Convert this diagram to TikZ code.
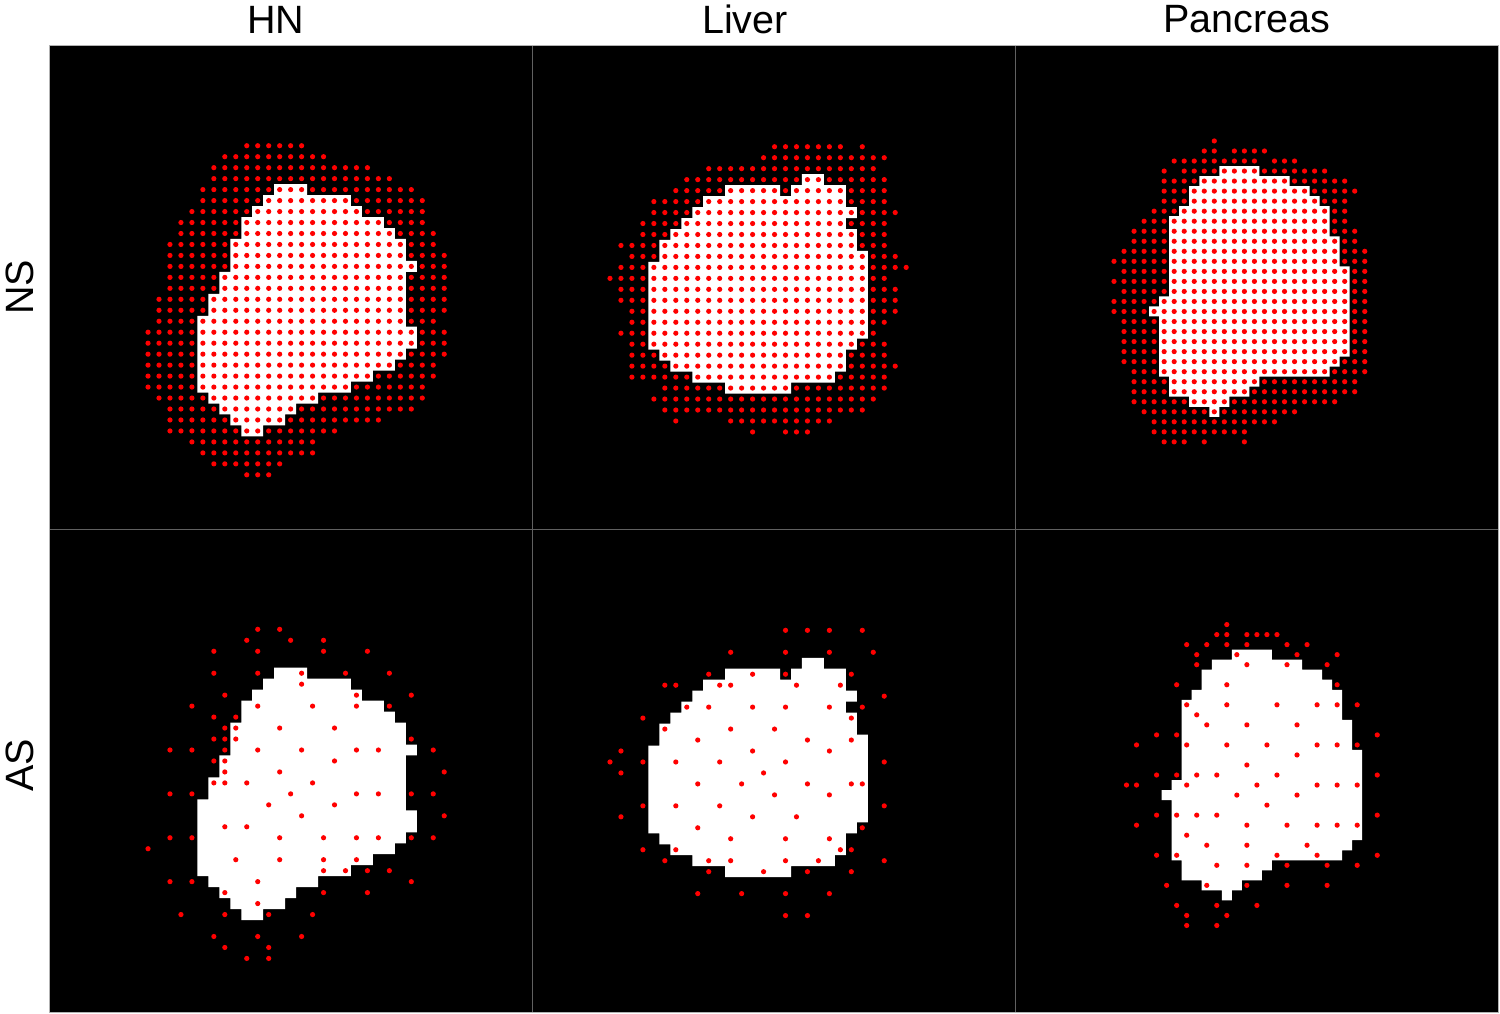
\documentclass[tikz,border=0pt]{standalone}
\usepackage{fontspec}
\setmainfont{Liberation Sans}
\begin{document}
\begin{tikzpicture}[x=1pt,y=-1pt]
\tikzset{
  lab/.style={inner sep=0pt, font=\fontsize{39.5}{44}\selectfont, anchor=base},
  rdot/.style={fill=red},
  blobfill/.style={fill=white},
  divider/.style={draw=black!62, line width=1pt},
  frame/.style={draw=black!30, line width=1.4pt}
}
\useasboundingbox (0,0) rectangle (1500,1014);
\fill[white] (0,0) rectangle (1500,1014);
% panels background
\fill[black] (49.3,45.7) rectangle (1498.3,1012.3);
\newcommand{\nsdots}[1]{\foreach \r/\a/\b in {#1}{\foreach \c in {\a,...,\b}{\fill[rdot] (\c,\r) circle (2.6pt);}}}
\newcommand{\asdots}[1]{\foreach \r/\lst in {#1}{\foreach \c in \lst {\fill[rdot] (\c,\r) circle (2.6pt);}}}
% ---------------- HN ----------------
\foreach \yy in {47,530.6}{
\begin{scope}[shift={(49.3pt,-\yy pt)}, x=10.97pt, y=-10.97pt]
\fill[blobfill] (20.5,12.5) -- (23.5,12.5) -- (23.5,13.5) -- (27.5,13.5) -- (27.5,14.5) -- (28.5,14.5) -- (28.5,15.5) -- (30.5,15.5) -- (30.5,16.5) -- (31.5,16.5) -- (31.5,17.5) -- (32.5,17.5) -- (32.5,19.5) -- (33.5,19.5) -- (33.5,20.5) -- (32.5,20.5) -- (32.5,25.5) -- (33.5,25.5) -- (33.5,27.5) -- (32.5,27.5) -- (32.5,28.5) -- (31.5,28.5) -- (31.5,29.5) -- (29.5,29.5) -- (29.5,30.5) -- (27.5,30.5) -- (27.5,31.5) -- (24.5,31.5) -- (24.5,32.5) -- (22.5,32.5) -- (22.5,33.5) -- (21.5,33.5) -- (21.5,34.5) -- (19.5,34.5) -- (19.5,35.5) -- (17.5,35.5) -- (17.5,34.5) -- (16.5,34.5) -- (16.5,33.5) -- (15.5,33.5) -- (15.5,32.5) -- (14.5,32.5) -- (14.5,31.5) -- (13.5,31.5) -- (13.5,24.5) -- (14.5,24.5) -- (14.5,22.5) -- (15.5,22.5) -- (15.5,20.5) -- (16.5,20.5) -- (16.5,17.5) -- (17.5,17.5) -- (17.5,15.5) -- (18.5,15.5) -- (18.5,14.5) -- (19.5,14.5) -- (19.5,13.5) -- (20.5,13.5) -- cycle;
\end{scope}}
\begin{scope}[shift={(49.3pt,-47pt)}, x=10.97pt, y=-10.97pt]
\nsdots{9/18/23,10/16/25,11/15/29,12/15/31,13/14/33,14/14/34,15/13/34,16/12/34,17/12/35,18/11/35,19/11/36,20/11/36,21/11/36,22/11/36,23/10/36,24/10/36,25/10/35,26/9/36,27/9/36,28/9/36,29/9/35,30/9/35,31/9/34,32/10/34,33/11/33,34/11/30,35/11/26,36/13/24,37/14/24,38/15/21,39/18/20}
\end{scope}
\begin{scope}[shift={(49.3pt,-530.6pt)}, x=10.97pt, y=-10.97pt]
\asdots{9/{19,21},10/{18,22,25},11/{15,19,25,29},13/{15,19,23,27,31},14/{23},15/{16,28,33},16/{13,19,24,28,31},17/{15,17},18/{16,17,21,26},19/{15,16,17,33},20/{11,13,16,19,23,28,30,35},21/{15,16,26},22/{16,21,36},23/{15,16,18,24},24/{11,13,22,28,30,33,35},25/{20,26},26/{23,36},27/{16,18},28/{11,13,21,25,28,30,33,35},29/{9},30/{17,21,25,28},31/{25,27,29,31},32/{11,13,19,33},33/{16,25,29},34/{19},35/{12,16,20,24},37/{15,19,23},38/{16,20},39/{18,20}}
\end{scope}
% ---------------- Liver ----------------
\foreach \yy in {48,531.6}{
\begin{scope}[shift={(533.2pt,-\yy pt)}, x=10.97pt, y=-10.97pt]
\fill[blobfill] (17.5,12.5) -- (22.5,12.5) -- (22.5,13.5) -- (23.5,13.5) -- (23.5,12.5) -- (24.5,12.5) -- (24.5,11.5) -- (26.5,11.5) -- (26.5,12.5) -- (28.5,12.5) -- (28.5,14.5) -- (29.5,14.5) -- (29.5,15.5) -- (28.5,15.5) -- (28.5,16.5) -- (29.5,16.5) -- (29.5,18.5) -- (30.5,18.5) -- (30.5,26.5) -- (29.5,26.5) -- (29.5,27.5) -- (28.5,27.5) -- (28.5,29.5) -- (27.5,29.5) -- (27.5,30.5) -- (23.5,30.5) -- (23.5,31.5) -- (17.5,31.5) -- (17.5,30.5) -- (14.5,30.5) -- (14.5,29.5) -- (12.5,29.5) -- (12.5,28.5) -- (11.5,28.5) -- (11.5,27.5) -- (10.5,27.5) -- (10.5,19.5) -- (11.5,19.5) -- (11.5,17.5) -- (12.5,17.5) -- (12.5,16.5) -- (13.5,16.5) -- (13.5,15.5) -- (14.5,15.5) -- (14.5,14.5) -- (15.5,14.5) -- (15.5,13.5) -- (17.5,13.5) -- cycle;
\end{scope}}
\begin{scope}[shift={(533.2pt,-48pt)}, x=10.97pt, y=-10.97pt]
\nsdots{9/22/28,9/30/30,10/21/32,11/16/31,12/14/32,13/13/32,14/11/32,15/11/33,16/10/32,17/10/32,18/8/32,19/9/33,20/8/34,21/7/32,22/8/33,23/8/33,24/9/33,25/9/32,26/8/31,27/9/32,28/9/32,29/9/33,30/9/32,31/12/32,32/11/31,33/12/30,34/13/13,34/18/27,35/20/20,35/23/25}
\end{scope}
\begin{scope}[shift={(533.2pt,-531.6pt)}, x=10.97pt, y=-10.97pt]
\asdots{9/{23,25,27,30},11/{18,23,27,31},13/{16,20,23,29},14/{12,13,17,18,24,28},15/{32},16/{14,16,20,23,27,30},17/{10,29},18/{12,18,22},19/{15,25,29},20/{8,20,27},21/{7,10,13,17,23,32},22/{8,21},23/{15,19,25,29,30},24/{22,27},25/{10,13,17,32},26/{8,20,24},27/{15,30},28/{18,23,27},29/{10,13,28,29},30/{12,16,18,23,26,32},31/{16,21,25,29},33/{15,19,23,27},35/{23,25}}
\end{scope}
% ---------------- Pancreas ----------------
\foreach \xx/\yy in {1013.7/50.7,1026.2/534.3}{
\begin{scope}[shift={(\xx pt,-\yy pt)}, x=10.03pt, y=-10.03pt]
\fill[blobfill] (20.5,11.5) -- (24.5,11.5) -- (24.5,12.5) -- (27.5,12.5) -- (27.5,13.5) -- (29.5,13.5) -- (29.5,14.5) -- (30.5,14.5) -- (30.5,15.5) -- (31.5,15.5) -- (31.5,18.5) -- (32.5,18.5) -- (32.5,21.5) -- (33.5,21.5) -- (33.5,30.5) -- (32.5,30.5) -- (32.5,31.5) -- (31.5,31.5) -- (31.5,32.5) -- (24.5,32.5) -- (24.5,33.5) -- (23.5,33.5) -- (23.5,34.5) -- (21.5,34.5) -- (21.5,35.5) -- (20.5,35.5) -- (20.5,36.5) -- (19.5,36.5) -- (19.5,35.5) -- (17.5,35.5) -- (17.5,34.5) -- (15.5,34.5) -- (15.5,32.5) -- (14.5,32.5) -- (14.5,26.5) -- (13.5,26.5) -- (13.5,25.5) -- (14.5,25.5) -- (14.5,24.5) -- (15.5,24.5) -- (15.5,16.5) -- (16.5,16.5) -- (16.5,15.5) -- (17.5,15.5) -- (17.5,13.5) -- (18.5,13.5) -- (18.5,12.5) -- (20.5,12.5) -- cycle;
\end{scope}}
\begin{scope}[shift={(1013.7pt,-50.7pt)}, x=10.03pt, y=-10.03pt]
\nsdots{9/20/20,10/19/20,10/22/25,11/16/24,11/26/28,12/15/15,12/17/31,13/15/33,14/15/34,15/15/33,16/14/33,17/13/33,18/12/34,19/12/34,20/11/35,21/10/35,22/11/35,23/10/35,24/11/35,25/10/35,26/10/35,27/11/35,28/11/35,29/11/35,30/11/35,31/11/35,32/12/35,33/12/34,34/12/34,35/12/32,36/13/28,37/14/26,38/14/23,39/15/17,39/19/19,39/23/23}
\end{scope}
\begin{scope}[shift={(1026.2pt,-534.3pt)}, x=10.03pt, y=-10.03pt]
\asdots{9/{20},10/{19,20,22,23,24,25},11/{16,18,20,22,26,28},12/{17,21,27,31},13/{17,22,26,30},15/{15,20,31},17/{16,20,25,29,31,33},18/{17},19/{18,22,27},20/{13,15,35},21/{11,16,20,24,29,31,33},22/{27},23/{22},24/{13,15,17,19,25,35},25/{10,11,16,23,29,31,33},26/{21,27},27/{24},28/{13,15,17,19,35},29/{11,22,26,29,31,33},30/{16},31/{18,22,28},32/{13,15,25,29,35},33/{19,22,26,30,33},35/{14,18,22,26,30},37/{15,19,23},38/{16,20},39/{16,19}}
\end{scope}
% grid lines and frame
\draw[divider] (532.3,45.7) -- (532.3,1012.3);
\draw[divider] (1015.3,45.7) -- (1015.3,1012.3);
\draw[divider] (49.3,529.3) -- (1498.3,529.3);
\draw[frame] (49.3,45.7) rectangle (1498.3,1012.3);
% labels
\node[lab] (hn) at (276,34) {HN};
\node[lab] (liver) at (745,34) {Liver};
\node[lab] (panc) at (1247,33) {Pancreas};
\node[lab, rotate=90] (ns) at (34,287.5) {NS};
\node[lab, rotate=90] (as) at (34,765) {AS};
\end{tikzpicture}
\end{document}
